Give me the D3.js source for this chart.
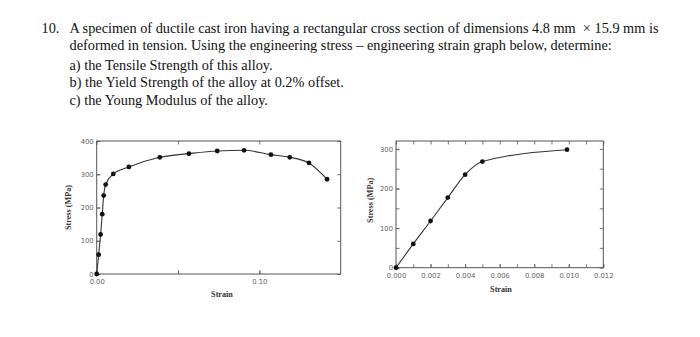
<!DOCTYPE html>
<html><head><meta charset="utf-8">
<script src="https://cdn.jsdelivr.net/npm/d3@7"></script>
<style>html,body{margin:0;padding:0;background:#fff;}svg{display:block;}</style>
</head><body>
<svg id="c" width="700" height="337"></svg>
<script>
// ---- text ----
const qNumber = "10.";
const qLines = [
  "A specimen of ductile cast iron having a rectangular cross section of dimensions 4.8 mm \u00a0\u00d7 15.9 mm is",
  "deformed in tension. Using the engineering stress \u2013 engineering strain graph below, determine:",
  "a) the Tensile Strength of this alloy.",
  "b) the Yield Strength of the alloy at 0.2% offset.",
  "c) the Young Modulus of the alloy."
];
// ---- left chart data (full curve) ----
const strainA = [0, 0.0012, 0.0024, 0.0034, 0.0043, 0.0055, 0.0102, 0.0198, 0.0388, 0.0567, 0.0741, 0.0906, 0.1071, 0.1187, 0.1305, 0.1416];
const stressA = [0, 58, 119, 180, 236, 269, 301, 322, 351, 362, 370, 372, 359, 351, 334, 285];
const yTicksA = [0, 100, 200, 300, 400];
const xTicksA = [0, 0.05, 0.10];
const xLabelsA = ["0.00", "", "0.10"];
// ---- right chart data (elastic region) ----
const strainB = [0, 0.001, 0.002, 0.003, 0.004, 0.005, 0.0099];
const stressB = [0, 60, 118, 177, 235, 268, 298];
const yTicksB = [0, 100, 200, 300];
const yMinorB = [0, 50, 100, 150, 200, 250, 300];
const xTicksB = [0, 0.002, 0.004, 0.006, 0.008, 0.010, 0.012];
const xMinorB = [0, 0.001, 0.002, 0.003, 0.004, 0.005, 0.006, 0.007, 0.008, 0.009, 0.010, 0.011, 0.012];
const xLabelsB = ["0.000", "0.002", "0.004", "0.006", "0.008", "0.010", "0.012"];
const yTitle = "Stress (MPa)";
const xTitle = "Strain";

const svg = d3.select("#c");
svg.append("rect").attr("width", 700).attr("height", 337).attr("fill", "#fff");

// question text
const serif = "'Liberation Serif','Times New Roman',serif";
const baselines = [32.5, 49.5, 69.5, 87, 104.5];
const qSize = 14.3;
svg.append("text").attr("x", 41.5).attr("y", baselines[0]).attr("font-family", serif)
  .attr("font-size", qSize).attr("fill", "#111").text(qNumber);
qLines.forEach((t, i) => {
  svg.append("text").attr("x", 69.5).attr("y", baselines[i]).attr("font-family", serif)
    .attr("font-size", qSize).attr("fill", "#111").attr("xml:space", "preserve").text(t);
});

const axisCol = "#555";
const tickFont = "'DejaVu Sans',sans-serif";

function chart(opts) {
  const g = svg.append("g");
  const x = d3.scaleLinear().domain(opts.xDomain).range([opts.left, opts.right]);
  const y = d3.scaleLinear().domain(opts.yDomain).range([opts.bottom, opts.top]);

  // frame
  g.append("rect").attr("x", opts.left).attr("y", opts.top)
    .attr("width", opts.right - opts.left).attr("height", opts.bottom - opts.top)
    .attr("fill", "none").attr("stroke", axisCol).attr("stroke-width", 1);

  const styleAxis = sel => {
    sel.select(".domain").remove();
    sel.selectAll(".tick line").attr("stroke", axisCol).attr("stroke-width", 0.8);
    sel.selectAll(".tick text").attr("fill", "#666").attr("font-family", tickFont).attr("font-size", 6.8);
  };
  // bottom & top
  g.append("g").attr("transform", `translate(0,${opts.bottom})`)
    .call(d3.axisBottom(x).tickValues(opts.xMinor).tickSize(-opts.tick).tickFormat(""))
    .call(styleAxis);
  g.append("g").attr("transform", `translate(0,${opts.bottom})`)
    .call(d3.axisBottom(x).tickValues(opts.xTicks).tickSize(-opts.tick).tickPadding(opts.xPad)
      .tickFormat((d, i) => opts.xLabels[i]))
    .call(styleAxis);
  g.append("g").attr("transform", `translate(0,${opts.top})`)
    .call(d3.axisTop(x).tickValues(opts.xMinor).tickSize(-opts.tick).tickFormat(""))
    .call(styleAxis);
  // left & right
  g.append("g").attr("transform", `translate(${opts.left},0)`)
    .call(d3.axisLeft(y).tickValues(opts.yMinor).tickSize(-opts.tick).tickFormat(""))
    .call(styleAxis);
  g.append("g").attr("transform", `translate(${opts.left},0)`)
    .call(d3.axisLeft(y).tickValues(opts.yTicks).tickSize(-opts.tick).tickPadding(3)
      .tickFormat(d3.format("d")))
    .call(styleAxis);
  g.append("g").attr("transform", `translate(${opts.right},0)`)
    .call(d3.axisRight(y).tickValues(opts.yMinor).tickSize(-opts.tick).tickFormat(""))
    .call(styleAxis);

  // titles
  g.append("text").attr("transform", `translate(${opts.yTitleX},${(opts.top + opts.bottom) / 2 + opts.yTitleDy}) rotate(-90)`)
    .attr("text-anchor", "middle").attr("font-family", serif).attr("font-weight", "bold")
    .attr("font-size", 8.2).attr("fill", "#333").text(yTitle);
  g.append("text").attr("x", opts.xTitleX).attr("y", opts.xTitleY)
    .attr("text-anchor", "middle").attr("font-family", serif).attr("font-weight", "bold")
    .attr("font-size", 8.2).attr("fill", "#333").text(xTitle);

  const pts = opts.xs.map((v, i) => [v, opts.ys[i]]);
  const line = d3.line().x(d => x(d[0])).y(d => y(d[1])).curve(d3.curveMonotoneX);
  g.append("path").attr("d", line(pts)).attr("fill", "none").attr("stroke", "#333").attr("stroke-width", 1.1);
  g.selectAll("circle.m").data(pts).join("circle").attr("class", "m")
    .attr("cx", d => x(d[0])).attr("cy", d => y(d[1])).attr("r", 2.4).attr("fill", "#111");
}

chart({
  xDomain: [0, 0.15], yDomain: [0, 400],
  left: 96.7, right: 340.7, top: 141, bottom: 274, tick: 3.5, xPad: 5,
  xTicks: xTicksA, xMinor: xTicksA, xLabels: xLabelsA,
  yTicks: yTicksA, yMinor: yTicksA,
  xs: strainA, ys: stressA,
  yTitleX: 71, yTitleDy: 0, xTitleX: 222, xTitleY: 297
});
chart({
  xDomain: [0, 0.012], yDomain: [0, 320],
  left: 396, right: 603.3, top: 141, bottom: 267.7, tick: 3.5, xPad: 5,
  xTicks: xTicksB, xMinor: xMinorB, xLabels: xLabelsB,
  yTicks: yTicksB, yMinor: yMinorB,
  xs: strainB, ys: stressB,
  yTitleX: 373, yTitleDy: -4, xTitleX: 501, xTitleY: 292
});
</script>
</body></html>
